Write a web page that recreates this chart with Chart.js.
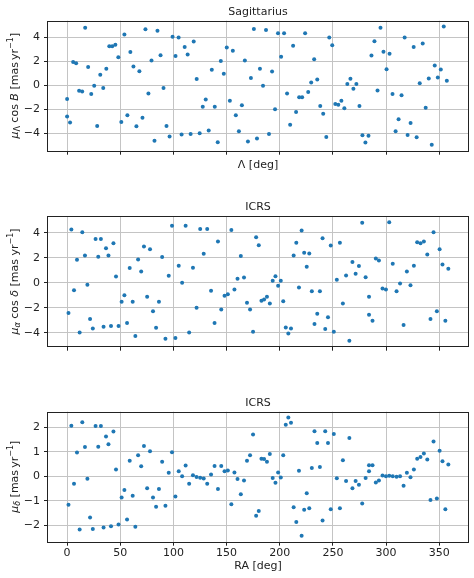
<!DOCTYPE html>
<html lang="en">
<head>
    <meta charset="UTF-8">
    <title>Sagittarius / ICRS proper motions</title>
    <script src="https://cdn.jsdelivr.net/npm/chart.js"></script>
    <style>
        body { margin: 0; background: #fff; }
        #wrap { position: relative; width: 474px; height: 578px; }
        #wrap canvas { position: absolute; left: 0; }
    </style>
</head>
<body>
    <div id="wrap">
        <canvas id="sgrChart" width="474" height="195" style="top:0px"></canvas>
        <canvas id="pmraChart" width="474" height="190" style="top:195px"></canvas>
        <canvas id="pmdecChart" width="474" height="193" style="top:385px"></canvas>
    </div>

    <script>
        // Lambda along the stream [deg] (last point wraps back to 0)
        const lambdaDeg = [
            0.0, 2.8, 5.7, 8.5, 11.3, 14.2, 17.0, 19.8, 22.7, 25.5, 28.3, 31.2, 34.0, 36.9, 39.7, 42.5,
            45.4, 48.2, 51.0, 53.9, 56.7, 59.5, 62.4, 65.2, 68.0, 70.9, 73.7, 76.5, 79.4, 82.2, 85.0, 87.9,
            90.7, 93.5, 96.4, 99.2, 102.0, 104.9, 107.7, 110.6, 113.4, 116.2, 119.1, 121.9, 124.7, 127.6, 130.4, 133.2,
            136.1, 138.9, 141.7, 144.6, 147.4, 150.2, 153.1, 155.9, 158.7, 161.6, 164.4, 167.2, 170.1, 172.9, 175.7, 178.6,
            181.4, 184.3, 187.1, 189.9, 192.8, 195.6, 198.4, 201.3, 204.1, 206.9, 209.8, 212.6, 215.4, 218.3, 221.1, 223.9,
            226.8, 229.6, 232.4, 235.3, 238.1, 240.9, 243.8, 246.6, 249.4, 252.3, 255.1, 258.0, 260.8, 263.6, 266.5, 269.3,
            272.1, 275.0, 277.8, 280.6, 283.5, 286.3, 289.1, 292.0, 294.8, 297.6, 300.5, 303.3, 306.1, 309.0, 311.8, 314.6,
            317.5, 320.3, 323.1, 326.0, 328.8, 331.7, 334.5, 337.3, 340.2, 343.0, 345.8, 348.7, 351.5, 354.3, 357.2, 0.0
        ];
        // mu_Lambda cos B [mas/yr]
        const pmLambda = [
            -1.14, -3.1, 1.95, 1.85, -0.45, -0.5, 4.83, 1.53, -0.72, -0.03, -3.4, 0.89, -0.22, 1.39, 3.28, 3.28,
            3.4, 2.36, -3.05, 4.25, -2.5, 2.8, 1.58, -3.42, 1.19, -2.7, 4.7, -0.67, 2.08, -4.62, 4.58, 2.53,
            -0.22, -3.4, -4.28, 4.06, 2.45, 4.0, -4.11, 3.22, 2.58, -4.06, 3.67, 0.53, -4.0, -1.78, -1.17, -3.78,
            1.31, -1.78, -4.75, 2.03, 0.97, 3.17, -1.28, 2.9, -2.5, -3.83, -1.67, 2.08, -4.69, 0.61, 4.72, -4.44,
            1.39, -0.03, 4.64, -4.06, 1.17, -2.0, 4.36, 2.39, 4.36, -0.67, -3.28, 3.31, -2.22, -1.0, -1.0, 4.36,
            -0.56, 0.25, 2.19, 0.5, -1.72, -2.36, -4.31, 4.0, 3.36, -1.56, -1.61, -1.28, -1.92, 0.11, 0.56, -0.28,
            0.11, -1.72, -4.17, -4.78, -4.22, 2.5, 3.69, -0.42, 4.83, 2.81, 1.36, 2.64, -0.72, -3.83, -2.83, -0.83,
            4.0, -4.14, -3.14, 3.22, -4.33, 0.19, 3.5, -1.86, 0.58, -4.97, 1.67, 0.67, 1.33, 4.92, 0.39, -2.6
        ];
        // same points in ICRS: RA [deg]
        const raDeg = [
            284.0, 287.3, 290.4, 293.3, 296.7, 299.9, 303.0, 306.3, 309.9, 313.2, 316.5, 319.6, 323.0, 326.2, 329.3, 332.4,
            335.6, 338.8, 341.8, 344.7, 347.8, 350.4, 353.1, 355.8, 358.6, 1.3, 4.0, 6.5, 9.3, 11.8, 14.3, 16.8,
            19.1, 21.6, 24.2, 26.8, 29.3, 31.8, 34.3, 36.6, 38.9, 41.3, 43.6, 46.0, 48.4, 51.3, 53.9, 56.4,
            58.9, 61.7, 64.2, 66.8, 69.7, 72.3, 75.3, 78.0, 80.8, 83.7, 86.4, 89.4, 92.5, 95.6, 98.7, 101.9,
            105.0, 108.2, 111.5, 114.8, 118.4, 121.8, 125.2, 128.5, 131.8, 135.4, 138.7, 141.9, 145.0, 148.1, 151.2, 154.5,
            157.4, 160.3, 163.4, 166.4, 169.2, 172.1, 174.9, 177.8, 180.3, 182.8, 185.3, 188.0, 190.7, 193.4, 196.0, 198.5,
            201.0, 203.3, 205.7, 208.1, 210.6, 213.1, 215.6, 218.1, 220.6, 223.0, 225.4, 227.8, 230.2, 232.7, 235.3, 237.8,
            240.3, 242.8, 245.4, 248.0, 250.9, 253.7, 256.6, 259.4, 262.4, 265.5, 268.4, 271.4, 274.5, 277.6, 280.8, 284.0
        ];
        // mu_alpha cos delta [mas/yr]
        const pmRa = [
            -1.12, -3.02, 1.95, 1.79, -0.45, -0.53, 4.84, 1.52, -0.67, -0.05, -3.37, 0.91, -0.19, 1.36, 3.24, 3.16,
            3.29, 2.27, -2.89, 4.04, -2.27, 2.67, 1.47, -3.02, 1.12, -2.41, 4.25, -0.59, 1.84, -3.96, 4.04, 2.19,
            -0.16, -2.89, -3.64, 3.5, 2.09, 3.5, -3.5, 2.75, 2.19, -3.45, 3.16, 0.51, -3.45, -1.52, -0.99, -3.21,
            1.18, -1.52, -4.25, 1.87, 0.91, 2.89, -1.12, 2.67, -2.27, -3.58, -1.52, 2.06, -4.47, 0.56, 4.55, -4.41,
            1.36, 0.0, 4.55, -3.96, 1.2, -2.0, 4.3, 2.33, 4.3, -0.64, -3.2, 3.29, -2.14, -1.04, -0.91, 4.22,
            -0.53, 0.32, 2.14, 0.43, -1.6, -2.14, -3.9, 3.64, 2.99, -1.44, -1.34, -1.12, -1.66, 0.16, 0.53, -0.24,
            0.16, -1.47, -3.56, -4.04, -3.64, 2.19, 3.2, -0.37, 4.17, 2.41, 1.28, 2.35, -0.67, -3.29, -2.46, -0.67,
            3.56, -3.69, -2.75, 2.97, -3.9, 0.24, 3.2, -1.66, 0.59, -4.63, 1.66, 0.72, 1.34, 4.79, 0.45, -2.54
        ];
        // mu_delta [mas/yr]
        const pmDec = [
            0.2, 0.45, -0.26, -0.18, 0.03, 0.0, 0.02, 0.0, -0.02, 0.0, -0.39, 0.14, -0.04, 0.27, 0.71, 0.79,
            0.93, 0.68, -0.97, 1.42, -0.91, 1.04, 0.61, -1.35, 0.48, -1.17, 2.07, -0.31, 0.97, -2.18, 2.21, 1.2,
            -0.1, -1.69, -2.16, 2.05, 1.21, 2.05, -2.1, 1.62, 1.31, -2.05, 1.83, 0.27, -1.98, -0.87, -0.56, -1.77,
            0.63, -0.8, -2.07, 0.86, 0.41, 1.24, -0.49, 1.02, -0.87, -1.25, -0.52, 0.59, -1.21, 0.14, 0.98, -0.83,
            0.2, 0.0, 0.44, -0.31, 0.04, -0.03, -0.06, -0.09, -0.31, 0.07, 0.42, -0.52, 0.42, 0.2, 0.23, -1.15,
            0.15, -0.11, -0.74, -0.18, 0.63, 0.86, 1.71, -1.62, -1.42, 0.71, 0.7, 0.59, 0.91, -0.07, -0.27, 0.15,
            -0.05, 0.86, 2.11, 2.4, 2.19, -1.27, -1.87, 0.22, -2.44, -1.37, -0.7, -1.31, 0.34, 1.84, 1.36, 0.38,
            -1.81, 1.84, 1.36, -1.35, 1.73, -0.08, -1.31, 0.65, -0.2, 1.56, -0.49, -0.2, -0.35, -1.12, -0.07, 0.45
        ];

        const xTicks = [0, 50, 100, 150, 200, 250, 300, 350];
        const yTicksWide = [-4, -2, 0, 2, 4];
        const yTicksDec = [-2, -1, 0, 1, 2];

        Chart.defaults.font.family = '"DejaVu Sans", sans-serif';
        Chart.defaults.font.size = 11;
        Chart.defaults.color = '#222';

        const minus = v => v < 0 ? '\u2212' + Math.abs(v) : String(v);

        // frame, title, axis labels (y label has sub/superscripts so draw it by hand)
        const decorations = {
            id: 'decorations',
            afterDraw(chart, args, opts) {
                const { ctx, chartArea: a } = chart;
                const cx = (a.left + a.right) / 2;
                ctx.save();
                ctx.strokeStyle = '#222';
                ctx.lineWidth = 1;
                ctx.strokeRect(Math.round(a.left) - 0.5, Math.round(a.top) + 0.5,
                    Math.round(a.right - a.left) + 1, Math.round(a.bottom - a.top));

                ctx.fillStyle = '#222';
                ctx.textAlign = 'center';
                ctx.textBaseline = 'middle';
                ctx.font = '11px "DejaVu Sans"';
                ctx.fillText(opts.title, cx, a.top - 9);
                if (opts.xLabel) ctx.fillText(opts.xLabel, cx, a.bottom + opts.xLabelGap);

                // rotated y label
                const parts = opts.yLabel;
                const fontOf = p => (p.italic ? 'italic ' : '') + (p.small ? '8px' : '11px') + ' "DejaVu Sans"';
                let total = 0;
                parts.forEach(p => { ctx.font = fontOf(p); total += ctx.measureText(p.t).width; });
                ctx.translate(15, (a.top + a.bottom) / 2);
                ctx.rotate(-Math.PI / 2);
                ctx.textAlign = 'left';
                let x = -total / 2;
                parts.forEach(p => {
                    ctx.font = fontOf(p);
                    ctx.fillText(p.t, x, p.dy || 0);
                    x += ctx.measureText(p.t).width;
                });
                ctx.restore();
            }
        };

        function makeChart(id, xs, ys, cfg) {
            const points = xs.map((x, i) => ({ x: x, y: ys[i] }));
            return new Chart(document.getElementById(id), {
                type: 'scatter',
                data: {
                    datasets: [{
                        data: points,
                        backgroundColor: '#1f77b4',
                        borderWidth: 0,
                        pointRadius: 2,
                        pointHoverRadius: 2
                    }]
                },
                options: {
                    responsive: false,
                    animation: false,
                    devicePixelRatio: 1,
                    layout: { padding: { left: 18, right: 6, top: cfg.padTop, bottom: cfg.padBottom } },
                    plugins: {
                        legend: { display: false },
                        tooltip: { enabled: false },
                        decorations: cfg.labels
                    },
                    scales: {
                        x: {
                            type: 'linear',
                            min: -17.96,
                            max: 377.1,
                            afterBuildTicks: s => { s.ticks = xTicks.map(v => ({ value: v })); },
                            afterFit: s => { s.height = cfg.xHeight; },
                            grid: { color: '#c4c4c4', lineWidth: 1, tickLength: 4, tickColor: '#222' },
                            border: { display: false },
                            ticks: { display: cfg.showX, padding: 1, maxRotation: 0, callback: minus }
                        },
                        y: {
                            min: cfg.yMin,
                            max: cfg.yMax,
                            afterBuildTicks: s => { s.ticks = cfg.yTicks.map(v => ({ value: v })); },
                            afterFit: s => { s.width = 30; },
                            grid: { color: '#c4c4c4', lineWidth: 1, tickLength: 4, tickColor: '#222' },
                            border: { display: false },
                            ticks: { padding: 4, callback: minus }
                        }
                    }
                },
                plugins: [decorations]
            });
        }

        makeChart('sgrChart', lambdaDeg, pmLambda, {
            padTop: 20.7, padBottom: 40.3, xHeight: 4, showX: false,
            yMin: -5.46, yMax: 5.41, yTicks: yTicksWide,
            labels: {
                title: 'Sagittarius', xLabel: '\u039b [deg]', xLabelGap: 14.5,
                yLabel: [
                    { t: '\u03bc', italic: true },
                    { t: '\u039b', small: true, dy: 3 },
                    { t: ' cos ' },
                    { t: 'B', italic: true },
                    { t: ' [mas\u2009yr' },
                    { t: '\u22121', small: true, dy: -4 },
                    { t: ']' }
                ]
            }
        });

        makeChart('pmraChart', raDeg, pmRa, {
            padTop: 21.3, padBottom: 34.3, xHeight: 4, showX: false,
            yMin: -5.1, yMax: 5.31, yTicks: yTicksWide,
            labels: {
                title: 'ICRS',
                yLabel: [
                    { t: '\u03bc', italic: true },
                    { t: '\u03b1', italic: true, small: true, dy: 3 },
                    { t: ' cos ' },
                    { t: '\u03b4', italic: true },
                    { t: ' [mas yr' },
                    { t: '\u22121', small: true, dy: -4 },
                    { t: ']' }
                ]
            }
        });

        makeChart('pmdecChart', raDeg, pmDec, {
            padTop: 26.7, padBottom: 16.3, xHeight: 20, showX: true,
            yMin: -2.68, yMax: 2.64, yTicks: yTicksDec,
            labels: {
                title: 'ICRS', xLabel: 'RA [deg]', xLabelGap: 24.3,
                yLabel: [
                    { t: '\u03bc', italic: true },
                    { t: '\u03b4', italic: true, small: true, dy: 3 },
                    { t: ' [mas\u2009yr' },
                    { t: '\u22121', small: true, dy: -4 },
                    { t: ']' }
                ]
            }
        });
    </script>
</body>
</html>
